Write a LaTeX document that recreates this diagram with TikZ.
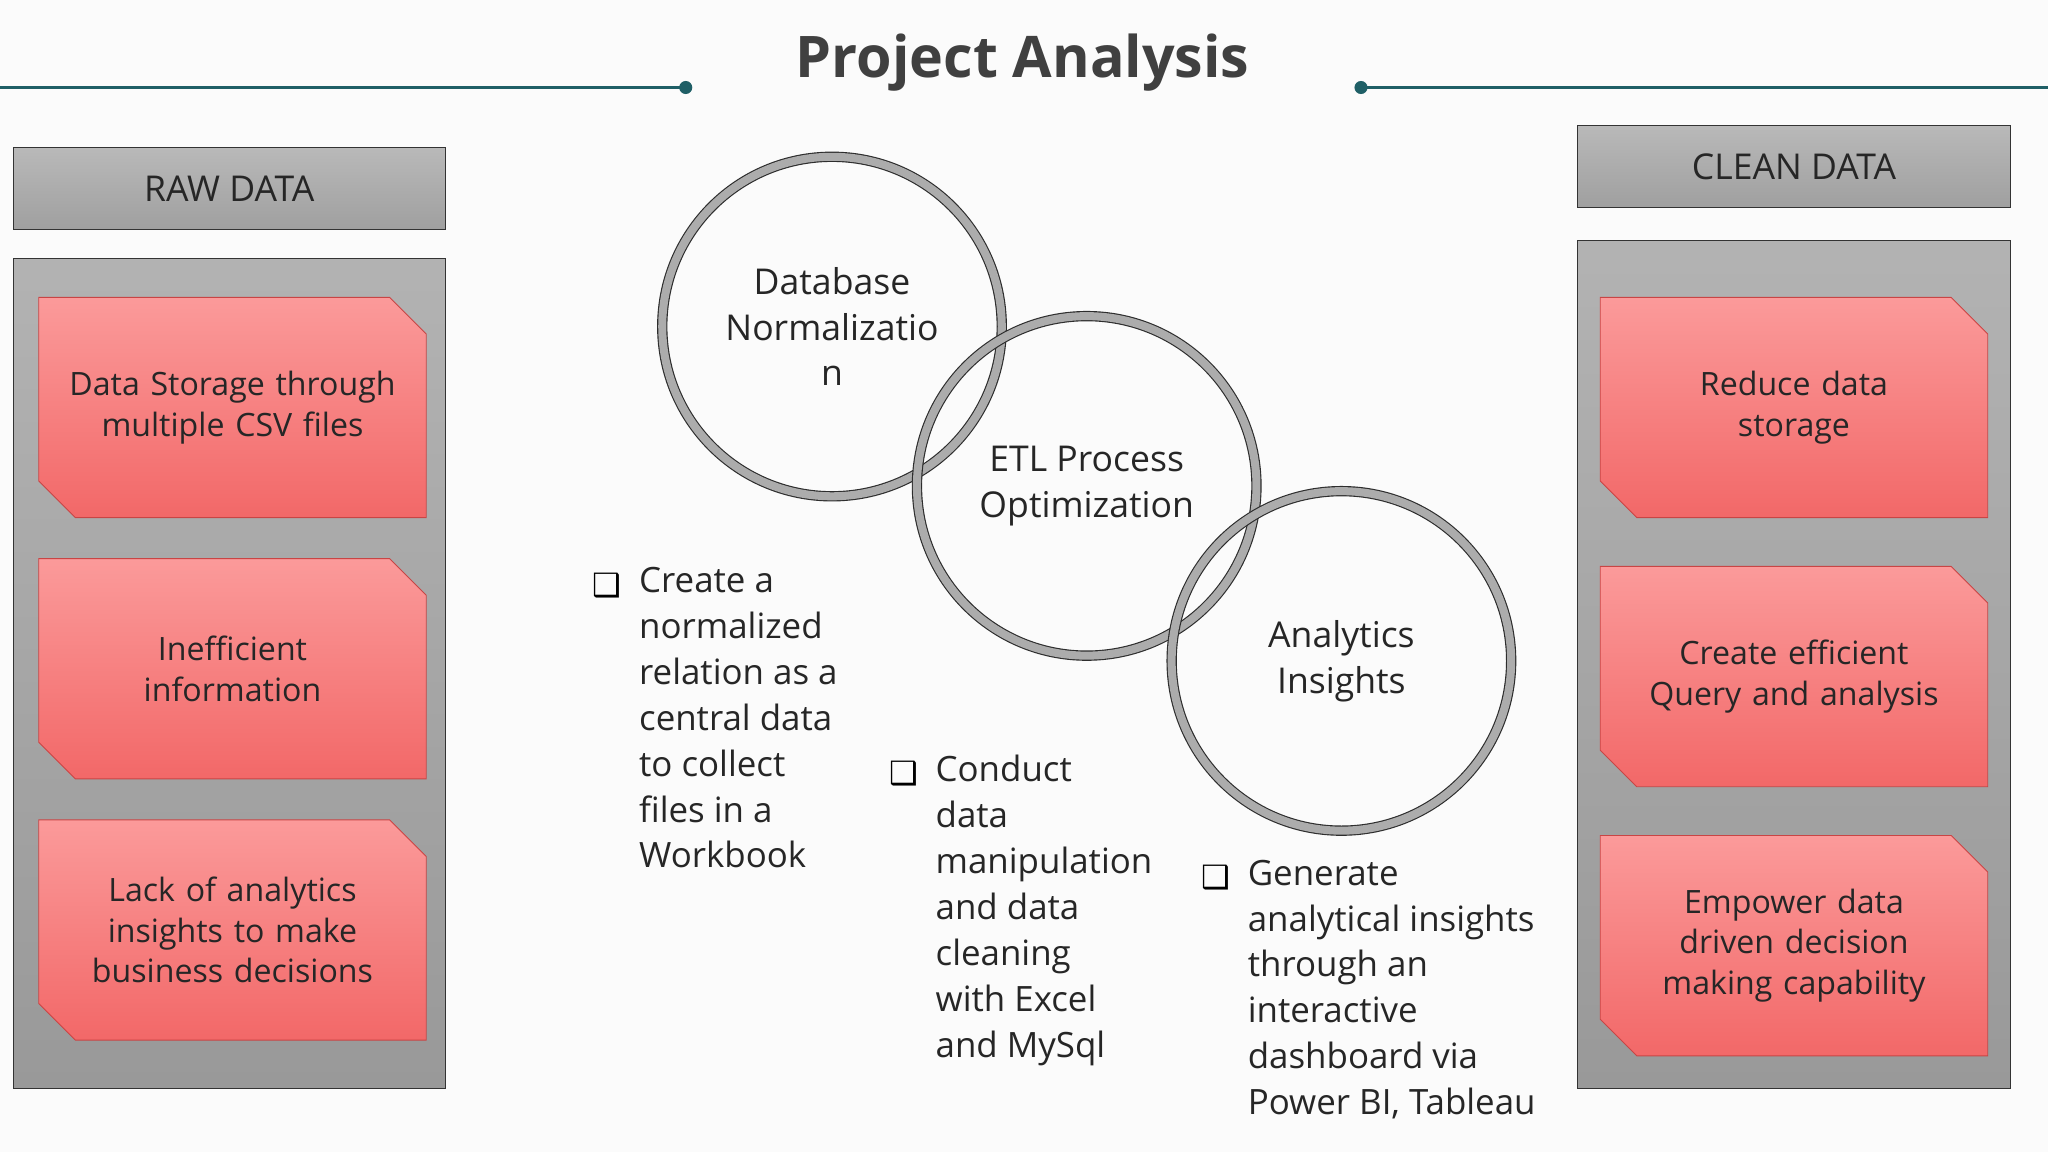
\documentclass[tikz,border=0pt]{standalone}
\usepackage{fontspec}
\setmainfont{Open Sans}
\newfontfamily\dejavu{DejaVu Sans}
\usetikzlibrary{calc,backgrounds,positioning}
\definecolor{teal1}{HTML}{1F5F66}
\definecolor{redtop}{HTML}{FB9A9A}
\definecolor{redbot}{HTML}{F26868}
\definecolor{redline}{HTML}{C84545}
\tikzset{
  hdr/.style={draw=gray!40!black,top color=gray!55,bottom color=gray!75,minimum width=6.62cm,minimum height=1.26cm,inner sep=0,font=\fontsize{15.5}{19}\selectfont,text=black!85},
  panel/.style={draw=gray!40!black,top color=gray!60,bottom color=gray!80},
  issue/.style={rectangle,minimum width=5.92cm,minimum height=3.36cm,text width=5.6cm,inner sep=0,align=center,font=\fontsize{14}{17.6}\selectfont,text=black!85},
  cut/.style={draw=redline,top color=redtop,bottom color=redbot},
  ring/.style={circle,draw=gray!35!black,line width=0.5pt,double=gray!65,double distance=3.5pt,minimum size=5.2cm,align=center,font=\fontsize{15.5}{20}\selectfont,text=black!85},
  item/.style={inner sep=0,align=left,font=\fontsize{15.2}{20}\selectfont,text=black!85},
  tick/.style={inner sep=0,font=\dejavu\fontsize{14}{14}\selectfont},
}
\begin{document}
\begin{tikzpicture}[x=0.02cm,y=-0.02cm]
\useasboundingbox (0,0) rectangle (1568,882);
% title
\node[font=\bfseries\fontsize{25}{30}\selectfont,text=black!75] (title) at (783,48) {Project Analysis};
\coordinate (la) at (0,67); \coordinate (lb) at (525,67);
\coordinate (ra) at (1042,67); \coordinate (rb) at (1568,67);
\draw[teal1,line width=1pt] (la) -- (lb); \fill[teal1] (lb) circle (5);
\draw[teal1,line width=1pt] (ra) -- (rb); \fill[teal1] (ra) circle (5);
% raw data side
\node[hdr] (raw) at (175.5,144.5) {RAW DATA};
\node[issue] (raw1) at (178,312) {Data Storage through\\multiple CSV files};
\node[issue] (raw2) at (178,512) {Inefficient\\information};
\node[issue] (raw3) at (178,712) {Lack of analytics\\insights to make\\business decisions};
% clean data side
\node[hdr] (clean) at (1373.5,127.5) {CLEAN DATA};
\node[issue] (clean1) at (1373.5,312) {Reduce data\\storage};
\node[issue] (clean2) at (1373.5,518) {Create efficient\\Query and analysis};
\node[issue] (clean3) at (1373.5,724) {Empower data\\driven decision\\making capability};
\begin{scope}[on background layer]
\fill[gray!3] (0,0) rectangle (1568,882);
\draw[panel] (10,198) rectangle (341,833);
\draw[panel] (1208,184) rectangle (1539,833);
\foreach \n in {raw1,raw2,raw3,clean1,clean2,clean3}
  \draw[cut] (\n.north west) -- ($(\n.north east)+(-28,0)$) -- ($(\n.north east)+(0,28)$)
    -- (\n.south east) -- ($(\n.south west)+(28,0)$) -- ($(\n.south west)+(0,-28)$) -- cycle;
\end{scope}
% circles
\node[ring] (dbn) at (637,250) {Database\\Normalizatio\\n};
\node[ring] (etl) at (832,372) {ETL Process\\Optimization};
\node[ring] (ana) at (1027,506) {Analytics\\Insights};
% bullet lists
\node[tick] (t1) at (465,448) {❑};
\node[item,anchor=north west] (n1) at (489,434) {Create a\\normalized\\relation as a\\central data\\to collect\\files in a\\Workbook};
\node[tick] (t2) at (692,592) {❑};
\node[item,anchor=north west] (n2) at (716,578) {Conduct\\data\\manipulation\\and data\\cleaning\\with Excel\\and MySql};
\node[tick] (t3) at (931,672) {❑};
\node[item,anchor=north west] (n3) at (955,658) {Generate\\analytical insights\\through an\\interactive\\dashboard via\\Power BI, Tableau};
\end{tikzpicture}
\end{document}
